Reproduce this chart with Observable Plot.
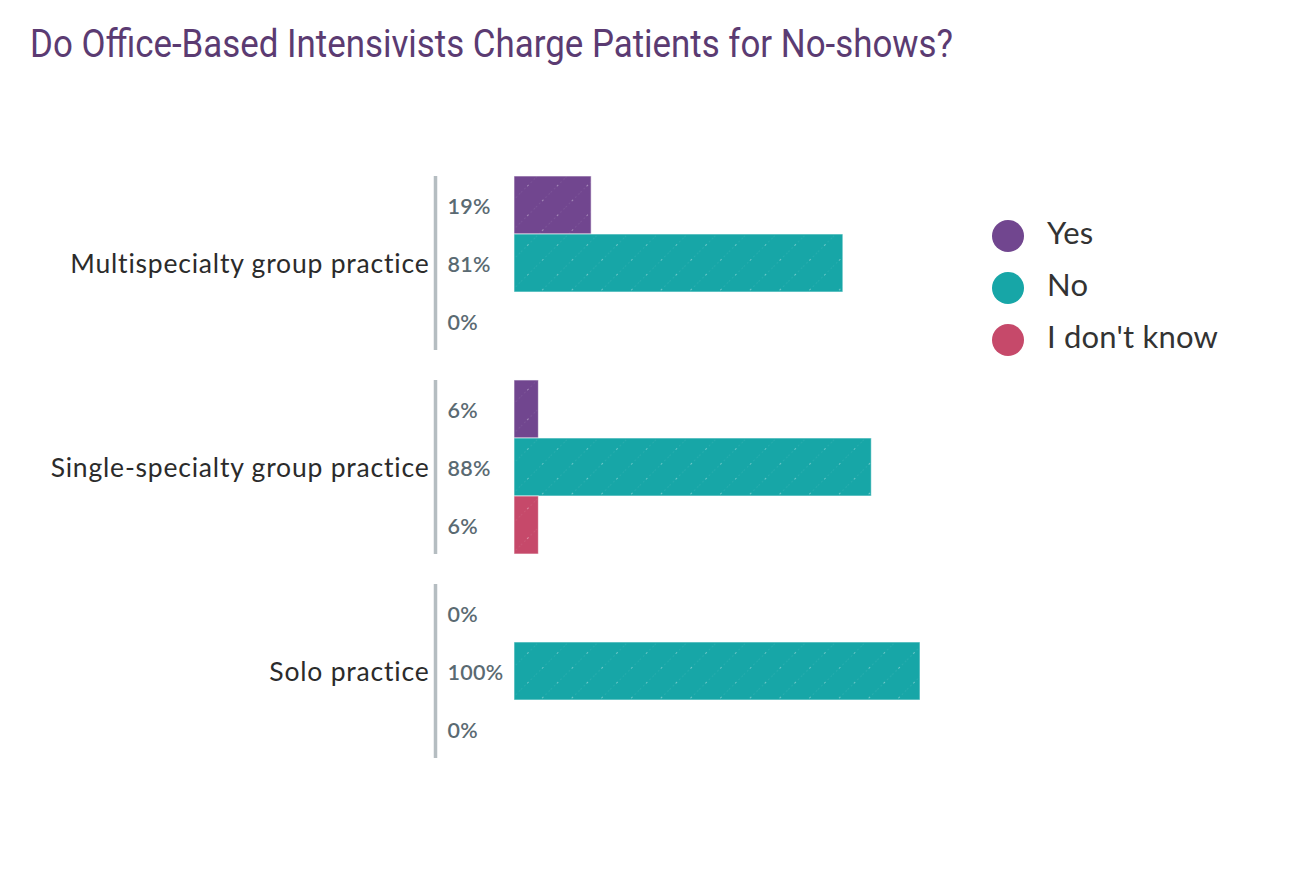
<!DOCTYPE html>
<html>
<head>
<meta charset="utf-8">
<script src="https://cdn.jsdelivr.net/npm/d3@7"></script>
<script src="https://cdn.jsdelivr.net/npm/@observablehq/plot@0.6"></script>
<style>
  html, body { margin: 0; padding: 0; background: #fff; }
  #wrap { position: relative; width: 1290px; height: 878px; overflow: hidden; }
  #title { position: absolute; left: 30px; top: 25px; font-family: Roboto, sans-serif; font-size: 38px; line-height: 1; color: #5b3b72; white-space: nowrap; transform-origin: 0 0; }
  #legend { position: absolute; left: 992px; top: 220px; font-family: Lato, sans-serif; font-size: 31px; color: #333; }
  .item { position: relative; height: 52px; }
  .sw { position: absolute; left: 0; top: 0; width: 32px; height: 32px; border-radius: 50%; }
  .lab { position: absolute; left: 55px; top: -4px; line-height: 32px; white-space: nowrap; letter-spacing: 0.2px; }
  g[aria-label="fy-axis tick label"] text { letter-spacing: 0.8px; }
  g[aria-label="text"] text { letter-spacing: 0.3px; }
</style>
</head>
<body>
<div id="wrap">
  <div id="chart"></div>
  <div id="title">Do Office-Based Intensivists Charge Patients for No-shows?</div>
  <div id="legend"></div>
</div>
<script>
const groups = ["Multispecialty group practice", "Single-specialty group practice", "Solo practice"];
const answers = ["Yes", "No", "I don't know"];
const yesValues = [19, 6, 0];
const noValues = [81, 88, 100];
const dontKnowValues = [0, 6, 0];
const colors = ["#71468f", "#17a6a7", "#c6496a"];

const series = [yesValues, noValues, dontKnowValues];
const rows = [];
groups.forEach((g, gi) => {
  answers.forEach((a, ai) => {
    rows.push({group: g, answer: a, value: series[ai][gi]});
  });
});
const barRows = rows.filter(d => d.value > 0);

const chart = Plot.plot({
  width: 1290,
  height: 878,
  marginLeft: 514,
  marginRight: 370,
  marginTop: 176,
  marginBottom: 120,
  style: {fontFamily: "Lato, sans-serif", background: "white"},
  x: {domain: [0, 100], axis: null},
  y: {domain: answers, padding: 0, axis: null, round: false},
  fy: {domain: groups, paddingInner: 0.147, paddingOuter: 0, label: null, round: false},
  color: {domain: answers, range: colors},
  marks: [
    Plot.axisFy({anchor: "left", tickSize: 0, tickPadding: 85, fontSize: 26.5, color: "#2b2b2b", label: null, dy: 1}),
    Plot.ruleX(groups, {x: () => 0, fy: d => d, dx: -79, stroke: "#b5bdc1", strokeWidth: 3.5}),
    Plot.barX(barRows, {x: "value", y: "answer", fy: "group", fill: "answer", stroke: "#ffffff", strokeOpacity: 0.6, strokeWidth: 1, inset: 0}),
    Plot.barX(barRows, {x: "value", y: "answer", fy: "group", fill: "url(#diag)", inset: 0.5}),
    Plot.text(rows, {y: "answer", fy: "group", frameAnchor: "left", dx: -67, dy: 2, textAnchor: "start", text: d => d.value + "%", fontSize: 21.5, fontWeight: 600, fill: "#5a6a72"})
  ]
});

// faint diagonal texture on bars
const ns = "http://www.w3.org/2000/svg";
const defs = document.createElementNS(ns, "defs");
defs.innerHTML = `<pattern id="diag" patternUnits="userSpaceOnUse" width="21" height="21" patternTransform="rotate(45)">
  <line x1="0" y1="0" x2="0" y2="21" stroke="#ffffff" stroke-opacity="0.16" stroke-width="1" stroke-dasharray="1.5,3"/>
  <circle cx="0" cy="10" r="1" fill="#ffffff" fill-opacity="0.45"/>
</pattern>`;
chart.insertBefore(defs, chart.firstChild);

document.getElementById("chart").appendChild(chart);

// legend
const leg = document.getElementById("legend");
answers.forEach((a, i) => {
  const it = document.createElement("div");
  it.className = "item";
  it.innerHTML = `<div class="sw" style="background:${colors[i]}"></div><div class="lab">${a}</div>`;
  leg.appendChild(it);
});

// condense title to the reference width
const t = document.getElementById("title");
const w = t.getBoundingClientRect().width;
t.style.transform = `scaleX(${923 / w})`;
</script>
</body>
</html>
